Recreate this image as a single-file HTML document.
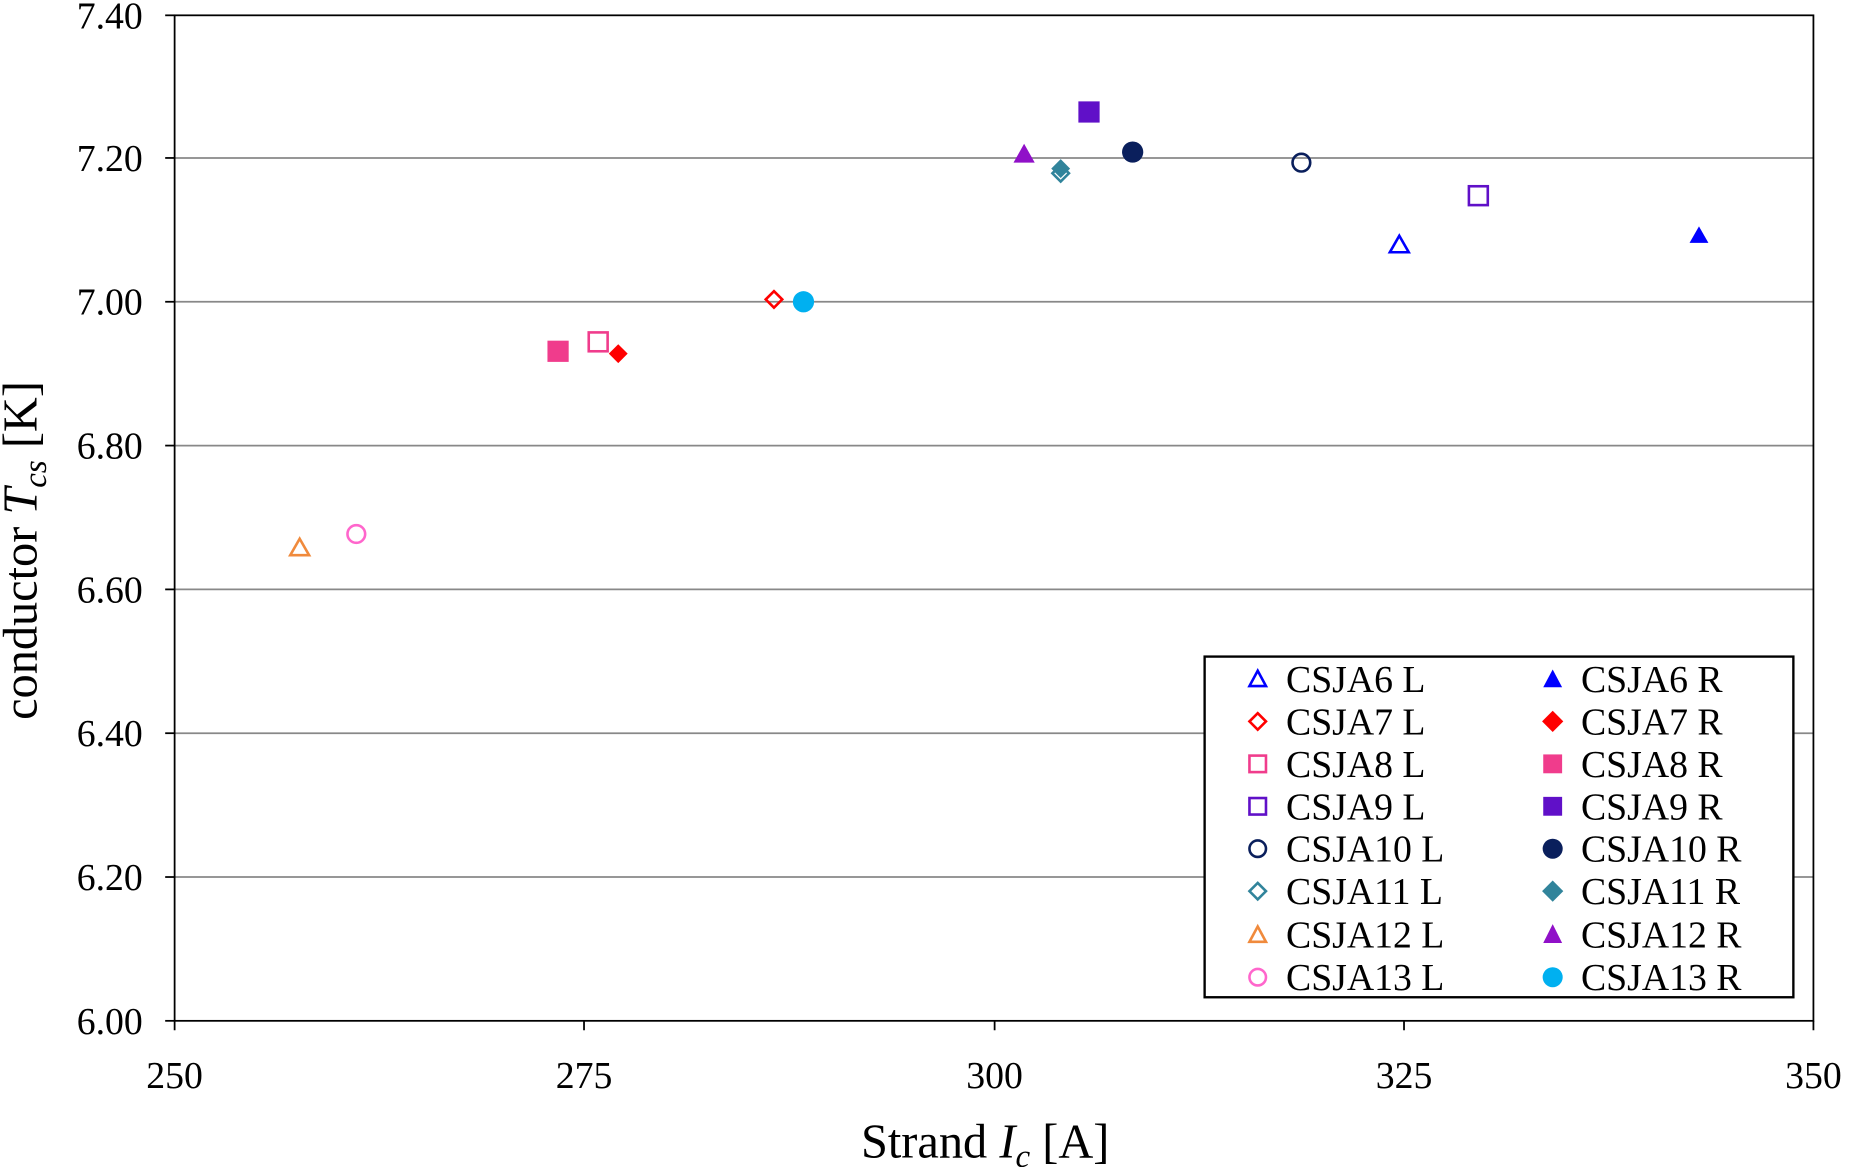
<!DOCTYPE html>
<html><head><meta charset="utf-8"><style>
html,body{margin:0;padding:0;background:#fff;}
svg{display:block;}
text{font-family:"Liberation Serif",serif;fill:#000;}
</style></head><body>
<svg width="1850" height="1167" viewBox="0 0 1568 990" preserveAspectRatio="none" xmlns="http://www.w3.org/2000/svg">
<rect width="1568" height="990" fill="#fff"/>
<g stroke="#888" stroke-width="1.5">
<line x1="148" y1="134" x2="1537" y2="134"/>
<line x1="148" y1="256" x2="1537" y2="256"/>
<line x1="148" y1="378" x2="1537" y2="378"/>
<line x1="148" y1="500" x2="1537" y2="500"/>
<line x1="148" y1="622" x2="1537" y2="622"/>
<line x1="148" y1="744" x2="1537" y2="744"/>
</g>
<rect x="148" y="13" width="1389" height="853" fill="none" stroke="#000" stroke-width="1.5"/>
<g stroke="#000" stroke-width="1.5">
<line x1="148" y1="866" x2="148" y2="874"/><line x1="495" y1="866" x2="495" y2="874"/>
<line x1="843" y1="866" x2="843" y2="874"/><line x1="1190" y1="866" x2="1190" y2="874"/>
<line x1="1537" y1="866" x2="1537" y2="874"/>
<line x1="140" y1="13" x2="148" y2="13"/><line x1="140" y1="134" x2="148" y2="134"/>
<line x1="140" y1="256" x2="148" y2="256"/><line x1="140" y1="378" x2="148" y2="378"/>
<line x1="140" y1="500" x2="148" y2="500"/><line x1="140" y1="622" x2="148" y2="622"/>
<line x1="140" y1="744" x2="148" y2="744"/><line x1="140" y1="866" x2="148" y2="866"/>
</g>
<g font-size="32" text-anchor="end">
<text x="121" y="24">7.40</text><text x="121" y="145">7.20</text><text x="121" y="267">7.00</text>
<text x="121" y="389">6.80</text><text x="121" y="511">6.60</text><text x="121" y="633">6.40</text>
<text x="121" y="755">6.20</text><text x="121" y="877">6.00</text>
</g>
<g font-size="32" text-anchor="middle">
<text x="148" y="923">250</text><text x="495" y="923">275</text><text x="843" y="923">300</text>
<text x="1190" y="923">325</text><text x="1537" y="923">350</text>
</g>
<text x="835" y="982" font-size="41" text-anchor="middle">Strand <tspan font-style="italic">I</tspan><tspan font-style="italic" font-size="28" dy="8">c</tspan><tspan dy="-8"> [A]</tspan></text>
<text transform="translate(31,467) rotate(-90)" font-size="41" text-anchor="middle">conductor <tspan font-style="italic">T</tspan><tspan font-style="italic" font-size="28" dy="8">cs</tspan><tspan dy="-8"> [K]</tspan></text>

<polygon points="1186,200 1194,214 1178,214" fill="none" stroke="#0000ff" stroke-width="2.2"/>
<polygon points="1440,192 1448,206 1432,206" fill="#0000ff"/>
<polygon points="656,247 663,254 656,261 649,254" fill="none" stroke="#ff0000" stroke-width="2.2"/>
<polygon points="524,292 532,300 524,308 516,300" fill="#ff0000"/>
<rect x="499" y="282" width="16" height="16" fill="none" stroke="#f03c8c" stroke-width="2.2"/>
<rect x="464" y="289" width="18" height="18" fill="#f03c8c"/>
<rect x="1245" y="158" width="16" height="16" fill="none" stroke="#6010c8" stroke-width="2.2"/>
<rect x="914" y="86" width="18" height="18" fill="#6010c8"/>
<circle cx="1103" cy="138" r="7.5" fill="none" stroke="#0a1f5c" stroke-width="2.2"/>
<circle cx="960" cy="129" r="9" fill="#0a1f5c"/>
<polygon points="899,140 906,147 899,154 892,147" fill="none" stroke="#31849b" stroke-width="2.2"/>
<polygon points="899,135 907,143 899,151 891,143" fill="#31849b"/>
<polygon points="254,457 262,471 246,471" fill="none" stroke="#f08a3c" stroke-width="2.2"/>
<polygon points="868,122 877,138 859,138" fill="#9010c8"/>
<circle cx="302" cy="453" r="7.5" fill="none" stroke="#ff66cc" stroke-width="2.2"/>
<circle cx="681" cy="256" r="9" fill="#00b0f0"/>

<rect x="1021" y="557" width="499" height="289" fill="#fff" stroke="#000" stroke-width="2"/>
<g font-size="32">
<text x="1090" y="587">CSJA6 L</text><text x="1340" y="587">CSJA6 R</text>
<text x="1090" y="623">CSJA7 L</text><text x="1340" y="623">CSJA7 R</text>
<text x="1090" y="659">CSJA8 L</text><text x="1340" y="659">CSJA8 R</text>
<text x="1090" y="695">CSJA9 L</text><text x="1340" y="695">CSJA9 R</text>
<text x="1090" y="731">CSJA10 L</text><text x="1340" y="731">CSJA10 R</text>
<text x="1090" y="767">CSJA11 L</text><text x="1340" y="767">CSJA11 R</text>
<text x="1090" y="804">CSJA12 L</text><text x="1340" y="804">CSJA12 R</text>
<text x="1090" y="840">CSJA13 L</text><text x="1340" y="840">CSJA13 R</text>
</g>
<polygon points="1066,569 1073,582 1059,582" fill="none" stroke="#0000ff" stroke-width="2.2"/>
<polygon points="1316,568 1324,583 1308,583" fill="#0000ff"/>
<polygon points="1066,605 1073,612 1066,619 1059,612" fill="none" stroke="#ff0000" stroke-width="2.2"/>
<polygon points="1316,603 1325,612 1316,621 1307,612" fill="#ff0000"/>
<rect x="1059" y="641" width="14" height="14" fill="none" stroke="#f03c8c" stroke-width="2.2"/>
<rect x="1308" y="640" width="16" height="16" fill="#f03c8c"/>
<rect x="1059" y="677" width="14" height="14" fill="none" stroke="#6010c8" stroke-width="2.2"/>
<rect x="1308" y="676" width="16" height="16" fill="#6010c8"/>
<circle cx="1066" cy="720" r="7" fill="none" stroke="#0a1f5c" stroke-width="2.2"/>
<circle cx="1316" cy="720" r="8.5" fill="#0a1f5c"/>
<polygon points="1066,749 1073,756 1066,763 1059,756" fill="none" stroke="#31849b" stroke-width="2.2"/>
<polygon points="1316,747 1325,756 1316,765 1307,756" fill="#31849b"/>
<polygon points="1066,786 1073,799 1059,799" fill="none" stroke="#f08a3c" stroke-width="2.2"/>
<polygon points="1316,784 1324,800 1308,800" fill="#9010c8"/>
<circle cx="1066" cy="829" r="7" fill="none" stroke="#ff66cc" stroke-width="2.2"/>
<circle cx="1316" cy="829" r="8.5" fill="#00b0f0"/>
</svg>
</body></html>
